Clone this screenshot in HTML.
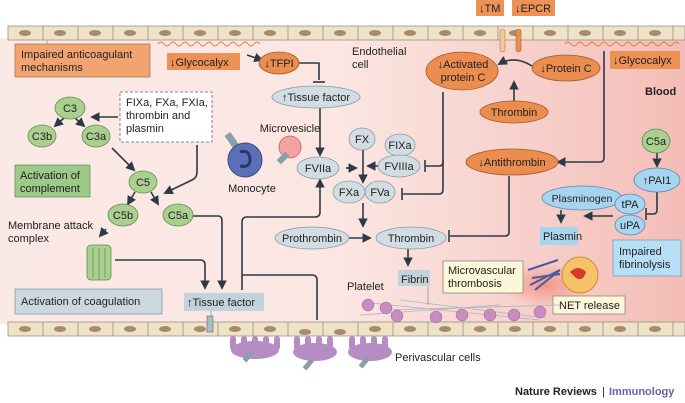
<!DOCTYPE html>
<html><head><meta charset="utf-8"><style>
body{margin:0;width:685px;height:403px;overflow:hidden;background:#fff}
svg{display:block}
text{font-family:"Liberation Sans",sans-serif;font-size:11px;fill:#222}
</style></head><body>
<svg width="685" height="403" viewBox="0 0 685 403" xmlns="http://www.w3.org/2000/svg">
<defs>
<linearGradient id="bg" x1="0" x2="1" y1="0" y2="0">
<stop offset="0" stop-color="#fbe9e5"/><stop offset="0.5" stop-color="#fbe6e2"/><stop offset="1" stop-color="#f4bdb7"/>
</linearGradient>
<radialGradient id="glow"><stop offset="0" stop-color="#f07060" stop-opacity="0.6"/><stop offset="1" stop-color="#f07060" stop-opacity="0"/></radialGradient>
<marker id="a" viewBox="0 0 10 10" refX="8" refY="5" markerWidth="6" markerHeight="6" orient="auto"><path d="M0,0L10,5L0,10z" fill="#2d3a45"/></marker>
</defs>
<rect x="0" y="38" width="685" height="286" fill="url(#bg)"/>
<rect x="8" y="26" width="677" height="14" fill="#eee2c8" stroke="#9a9080" stroke-width="0.8"/>
<g stroke="#9a9080" stroke-width="0.8">
<path d="M43,26v14M78,26v14M113,26v14M148,26v14M183,26v14M218,26v14M253,26v14M288,26v14M323,26v14M358,26v14M393,26v14M428,26v14M463,26v14M498,26v14M533,26v14M568,26v14M603,26v14M638,26v14M673,26v14" fill="none"/>
</g>
<g fill="#a88a6c">
<ellipse cx="25" cy="33" rx="6" ry="3"/><ellipse cx="60" cy="33" rx="6" ry="3"/><ellipse cx="95" cy="33" rx="6" ry="3"/><ellipse cx="130" cy="33" rx="6" ry="3"/><ellipse cx="165" cy="33" rx="6" ry="3"/><ellipse cx="200" cy="33" rx="6" ry="3"/><ellipse cx="235" cy="33" rx="6" ry="3"/><ellipse cx="270" cy="33" rx="6" ry="3"/><ellipse cx="305" cy="33" rx="6" ry="3"/><ellipse cx="340" cy="33" rx="6" ry="3"/><ellipse cx="375" cy="33" rx="6" ry="3"/><ellipse cx="410" cy="33" rx="6" ry="3"/><ellipse cx="445" cy="33" rx="6" ry="3"/><ellipse cx="480" cy="33" rx="6" ry="3"/><ellipse cx="515" cy="33" rx="6" ry="3"/><ellipse cx="550" cy="33" rx="6" ry="3"/><ellipse cx="585" cy="33" rx="6" ry="3"/><ellipse cx="620" cy="33" rx="6" ry="3"/><ellipse cx="655" cy="33" rx="6" ry="3"/>
</g>
<rect x="8" y="322" width="677" height="14" fill="#eee2c8" stroke="#9a9080" stroke-width="0.8"/>
<g stroke="#9a9080" stroke-width="0.8"><path d="M43,322v14M78,322v14M113,322v14M148,322v14M183,322v14M218,322v14M253,322v14M288,322v14M323,322v14M358,322v14M393,322v14M428,322v14M463,322v14M498,322v14M533,322v14M568,322v14M603,322v14M638,322v14M673,322v14"/></g>
<g fill="#a88a6c">
<ellipse cx="25" cy="329" rx="6" ry="3"/><ellipse cx="60" cy="329" rx="6" ry="3"/><ellipse cx="95" cy="329" rx="6" ry="3"/><ellipse cx="130" cy="329" rx="6" ry="3"/><ellipse cx="165" cy="329" rx="6" ry="3"/><ellipse cx="200" cy="329" rx="6" ry="3"/><ellipse cx="235" cy="329" rx="6" ry="3"/><ellipse cx="270" cy="329" rx="6" ry="3"/><ellipse cx="305" cy="332" rx="6" ry="3"/><ellipse cx="340" cy="332" rx="6" ry="3"/><ellipse cx="375" cy="329" rx="6" ry="3"/><ellipse cx="410" cy="329" rx="6" ry="3"/><ellipse cx="445" cy="329" rx="6" ry="3"/><ellipse cx="480" cy="329" rx="6" ry="3"/><ellipse cx="515" cy="329" rx="6" ry="3"/><ellipse cx="550" cy="329" rx="6" ry="3"/><ellipse cx="585" cy="329" rx="6" ry="3"/><ellipse cx="620" cy="329" rx="6" ry="3"/><ellipse cx="655" cy="329" rx="6" ry="3"/>
</g>
<!-- perivascular cells -->
<g fill="#b58cc4">
<ellipse cx="255" cy="350" rx="24" ry="9"/>
<rect x="230" y="336" width="6" height="14" rx="3"/><rect x="241" y="336" width="6" height="14" rx="3"/><rect x="252" y="336" width="6" height="14" rx="3"/><rect x="263" y="336" width="6" height="14" rx="3"/><rect x="274" y="336" width="6" height="14" rx="3"/>
<ellipse cx="315" cy="352" rx="22" ry="9"/>
<rect x="294" y="336" width="6" height="14" rx="3"/><rect x="305" y="336" width="6" height="14" rx="3"/><rect x="316" y="336" width="6" height="14" rx="3"/><rect x="327" y="336" width="6" height="14" rx="3"/>
<ellipse cx="370" cy="352" rx="22" ry="9"/>
<rect x="349" y="336" width="6" height="14" rx="3"/><rect x="360" y="336" width="6" height="14" rx="3"/><rect x="371" y="336" width="6" height="14" rx="3"/><rect x="382" y="336" width="6" height="14" rx="3"/>
</g>
<rect x="246" y="350" width="5" height="12" fill="#8aa0a8" transform="rotate(40 248 356)"/>
<rect x="306" y="358" width="5" height="12" fill="#8aa0a8" transform="rotate(40 308 364)"/>
<rect x="362" y="356" width="5" height="12" fill="#8aa0a8" transform="rotate(40 364 362)"/>
<rect x="207" y="316" width="6" height="16" fill="#a9bcc5" stroke="#667" stroke-width="0.6"/>
<path d="M158,44 q3,-4 6,0 t6,0 t6,0 t6,0 t6,0 t6,0 t6,0 t6,0 t6,0 t6,0 t6,0 t6,0 t6,0 t6,0 t6,0 t6,0 t6,0" fill="none" stroke="#e8823e" stroke-width="1"/>
<path d="M565,44 q3,-4 6,0 t6,0 t6,0 t6,0 t6,0 t6,0 t6,0 t6,0 t6,0 t6,0 t6,0 t6,0 t6,0 t6,0 t6,0 t6,0 t6,0 t6,0 t6,0" fill="none" stroke="#e8823e" stroke-width="1"/>
<rect x="500" y="29" width="5" height="23" rx="2.5" fill="#f6c89e" stroke="#c47a40" stroke-width="0.6"/>
<rect x="516" y="29" width="5" height="23" rx="2.5" fill="#e8904c" stroke="#c06030" stroke-width="0.6"/>
<g stroke="#2d3a45" stroke-width="1.6" fill="none">
<path d="M247,55 L262,60" marker-end="url(#a)"/>
<path d="M298,63 H319 V80"/><path d="M313,82 H325"/>
<path d="M320,108 V155" marker-end="url(#a)"/>
<path d="M64,118 L55,126" marker-end="url(#a)"/><path d="M75,118 L84,126" marker-end="url(#a)"/>
<path d="M118,117 H92" marker-end="url(#a)"/>
<path d="M112,148 L134,170" marker-end="url(#a)"/>
<path d="M197,145 V172 Q197,178 192,180 L165,193" marker-end="url(#a)"/>
<path d="M135,192 L128,204" marker-end="url(#a)"/><path d="M151,192 L158,204" marker-end="url(#a)"/>
<path d="M106,229 L100,236" marker-end="url(#a)"/>
<path d="M115,260 H200 Q205,260 205,265 V288" marker-end="url(#a)"/>
<path d="M192,216 H218 Q222,216 222,221 V288" marker-end="url(#a)"/>
<path d="M242,290 V222 Q242,217 247,217 H315 Q320,217 320,212 V180" marker-end="url(#a)"/>
<path d="M242,275 H312 Q317,275 317,280 V320"/>
<path d="M346,168 H356" marker-end="url(#a)"/><path d="M378,166 H368" marker-end="url(#a)"/>
<path d="M363,150 V182" marker-end="url(#a)"/>
<path d="M363,203 V226" marker-end="url(#a)"/>
<path d="M348,238 H370" marker-end="url(#a)"/>
<path d="M408,248 V265" marker-end="url(#a)"/>
<path d="M443,92 V162 Q443,166 439,166 H426"/><path d="M425,160 V172"/>
<path d="M443,160 V190 Q443,194 439,194 H403"/><path d="M402,188 V200"/>
<path d="M514,101 V82" marker-end="url(#a)"/>
<path d="M532,66 Q515,55 499,64" marker-end="url(#a)"/>
<path d="M604,51 V158 Q604,162 600,162 H558" marker-end="url(#a)"/>
<path d="M509,176 V232 Q509,236 505,236 H450"/><path d="M449,230 V242"/>
<path d="M657,151 V166" marker-end="url(#a)"/>
<path d="M657,192 V210 Q657,214 653,214 H647"/><path d="M646,208 V220"/>
<path d="M613,216 H585" marker-end="url(#a)"/>
<path d="M561,210 V222" marker-end="url(#a)"/>
</g>
<g stroke="#8a9aa5" stroke-width="0.8"><path d="M211,302 V316"/><path d="M428,282 V305"/><path d="M47,40 V48"/></g>
<rect x="15" y="44" width="135" height="33" fill="#f2a470" stroke="#a37a5a" stroke-width="0.8"/>
<text x="21" y="58">Impaired anticoagulant</text><text x="21" y="71">mechanisms</text>
<rect x="167" y="53" width="73" height="17" fill="#ee9154"/>
<text x="170" y="66">↓Glycocalyx</text>
<rect x="610" y="51" width="70" height="18" fill="#ee9154"/>
<text x="613" y="64">↓Glycocalyx</text>
<rect x="476" y="0" width="28" height="16" fill="#ee9154"/><text x="479" y="12">↓TM</text>
<rect x="512" y="0" width="43" height="16" fill="#ee9154"/><text x="515" y="12">↓EPCR</text>
<rect x="120" y="92" width="92" height="50" fill="#fff" stroke="#666" stroke-width="0.8" stroke-dasharray="3,2"/>
<text x="126" y="106">FIXa, FXa, FXIa,</text><text x="126" y="119">thrombin and</text><text x="126" y="132">plasmin</text>
<rect x="15" y="165" width="75" height="32" fill="#9dca88" stroke="#6e8f60" stroke-width="0.8"/>
<text x="20" y="179">Activation of</text><text x="20" y="192">complement</text>
<rect x="15" y="289" width="147" height="25" fill="#cbd8df" stroke="#8a9aa5" stroke-width="0.8"/>
<text x="21" y="305">Activation of coagulation</text>
<rect x="184" y="293" width="80" height="18" fill="#c3d3dc"/>
<text x="187" y="306">↑Tissue factor</text>
<rect x="398" y="270" width="32" height="16" fill="#c3d3dc"/><text x="401" y="283">Fibrin</text>
<rect x="540" y="227" width="38" height="18" fill="#a7d4ef"/><text x="543" y="240">Plasmin</text>
<rect x="613" y="240" width="68" height="36" fill="#b6def5" stroke="#7aa0b8" stroke-width="0.8"/>
<text x="619" y="255">Impaired</text><text x="619" y="268">fibrinolysis</text>
<ellipse cx="545" cy="285" rx="45" ry="22" fill="url(#glow)"/>
<path d="M528,270 l30,-10 M530,285 l30,-15 M535,290 l25,-20 M532,278 l28,-4" stroke="#4a5aa0" stroke-width="2"/>
<circle cx="580" cy="275" r="18" fill="#f7c36a" stroke="#d08a30"/>
<path d="M570,272 q8,-8 16,0 q-3,10 -10,6z" fill="#d83a2a"/>
<rect x="443" y="261" width="80" height="32" fill="#fcf7d9" stroke="#888" stroke-width="0.8"/>
<text x="448" y="274">Microvascular</text><text x="448" y="287">thrombosis</text>
<rect x="553" y="296" width="72" height="18" fill="#fcf7d9" stroke="#888" stroke-width="0.8"/>
<text x="559" y="309">NET release</text>
<g stroke="#a9b4c4" stroke-width="0.8"><path d="M370,303 L540,320 M380,310 L560,305 M400,300 L545,318 M360,315 L500,305"/></g>
<g fill="#c98cc0" stroke="#9a6090" stroke-width="0.5">
<circle cx="368" cy="305" r="6"/><circle cx="386" cy="308" r="6"/><circle cx="397" cy="316" r="6"/><circle cx="436" cy="317" r="6"/><circle cx="462" cy="315" r="6"/><circle cx="490" cy="315" r="6"/><circle cx="514" cy="315" r="6"/><circle cx="540" cy="312" r="6"/>
</g>
<rect x="87" y="245" width="24" height="35" rx="4" fill="#a9d08e" stroke="#5f8a50" stroke-width="0.8"/>
<path d="M93,248V278M99,248V280M105,248V278" stroke="#5f8a50" stroke-width="0.7"/>
<rect x="228" y="133" width="7" height="14" fill="#8aa0a8" transform="rotate(-35 231 140)"/>
<circle cx="245" cy="160" r="17" fill="#5a6fb5" stroke="#3a4a80"/>
<path d="M240,152 q10,-3 10,8 q0,8 -10,6" fill="none" stroke="#2a3670" stroke-width="3"/>
<circle cx="290" cy="147" r="11" fill="#f4a3a0" stroke="#c06060" stroke-width="0.8"/>
<rect x="280" y="152" width="6" height="12" fill="#8aa0a8" transform="rotate(45 283 158)"/>
<g stroke-width="0.8">
<ellipse cx="279" cy="63" rx="20" ry="11" fill="#ea8d4e" stroke="#a25a2a"/>
<ellipse cx="316" cy="97" rx="44" ry="11" fill="#d2dce3" stroke="#8a9aa5"/>
<ellipse cx="70" cy="108" rx="15" ry="11" fill="#a9d08e" stroke="#5f8a50"/>
<ellipse cx="42" cy="136" rx="14" ry="11" fill="#a9d08e" stroke="#5f8a50"/>
<ellipse cx="96" cy="136" rx="14" ry="11" fill="#a9d08e" stroke="#5f8a50"/>
<ellipse cx="143" cy="182" rx="14" ry="11" fill="#a9d08e" stroke="#5f8a50"/>
<ellipse cx="123" cy="215" rx="15" ry="11" fill="#a9d08e" stroke="#5f8a50"/>
<ellipse cx="178" cy="215" rx="15" ry="11" fill="#a9d08e" stroke="#5f8a50"/>
<ellipse cx="318" cy="168" rx="21" ry="11" fill="#d2dce3" stroke="#8a9aa5"/>
<ellipse cx="362" cy="139" rx="13" ry="11" fill="#d2dce3" stroke="#8a9aa5"/>
<ellipse cx="400" cy="145" rx="15" ry="11" fill="#d2dce3" stroke="#8a9aa5"/>
<ellipse cx="399" cy="166" rx="21" ry="11" fill="#d2dce3" stroke="#8a9aa5"/>
<ellipse cx="349" cy="192" rx="16" ry="11" fill="#d2dce3" stroke="#8a9aa5"/>
<ellipse cx="380" cy="192" rx="15" ry="11" fill="#d2dce3" stroke="#8a9aa5"/>
<ellipse cx="312" cy="238" rx="37" ry="11" fill="#d2dce3" stroke="#8a9aa5"/>
<ellipse cx="411" cy="238" rx="35" ry="11" fill="#d2dce3" stroke="#8a9aa5"/>
<ellipse cx="462" cy="71" rx="36" ry="19" fill="#ea8d4e" stroke="#a25a2a"/>
<ellipse cx="566" cy="68" rx="34" ry="13" fill="#ea8d4e" stroke="#a25a2a"/>
<ellipse cx="514" cy="112" rx="34" ry="11" fill="#ea8d4e" stroke="#a25a2a"/>
<ellipse cx="512" cy="162" rx="46" ry="13" fill="#ea8d4e" stroke="#a25a2a"/>
<ellipse cx="656" cy="141" rx="14" ry="12" fill="#a9d08e" stroke="#5f8a50"/>
<ellipse cx="657" cy="180" rx="23" ry="12" fill="#a7d4ef" stroke="#5a8ab0"/>
<ellipse cx="582" cy="198" rx="40" ry="12" fill="#a7d4ef" stroke="#5a8ab0"/>
<ellipse cx="630" cy="204" rx="15" ry="10" fill="#a7d4ef" stroke="#5a8ab0"/>
<ellipse cx="630" cy="225" rx="15" ry="10" fill="#a7d4ef" stroke="#5a8ab0"/>
</g>
<g text-anchor="middle">
<text x="279" y="67">↓TFPI</text>
<text x="316" y="101">↑Tissue factor</text>
<text x="70" y="112">C3</text><text x="42" y="140">C3b</text><text x="96" y="140">C3a</text>
<text x="143" y="186">C5</text><text x="123" y="219">C5b</text><text x="178" y="219">C5a</text>
<text x="318" y="172">FVIIa</text><text x="362" y="143">FX</text><text x="400" y="149">FIXa</text>
<text x="399" y="170">FVIIIa</text><text x="349" y="196">FXa</text><text x="380" y="196">FVa</text>
<text x="312" y="242">Prothrombin</text><text x="411" y="242">Thrombin</text>
<text x="463" y="68">↓Activated</text><text x="463" y="81">protein C</text>
<text x="566" y="72">↓Protein C</text><text x="514" y="116">Thrombin</text>
<text x="512" y="166">↓Antithrombin</text>
<text x="656" y="145">C5a</text><text x="657" y="184">↑PAI1</text>
<text x="582" y="202" style="font-size:10.5px">Plasminogen</text><text x="630" y="208">tPA</text><text x="630" y="229">uPA</text>
<text x="290" y="132">Microvesicle</text><text x="252" y="192">Monocyte</text>
</g>
<text x="352" y="55">Endothelial</text><text x="352" y="68">cell</text>
<text x="645" y="95" font-weight="bold">Blood</text>
<text x="8" y="229">Membrane attack</text><text x="8" y="242">complex</text>
<text x="347" y="290">Platelet</text>
<text x="395" y="361">Perivascular cells</text>
<text x="515" y="395" font-weight="bold">Nature Reviews</text>
<text x="602" y="395" fill="#555">|</text>
<text x="609" y="395" font-weight="bold" style="fill:#6a5fa8">Immunology</text>
</svg>
</body></html>
